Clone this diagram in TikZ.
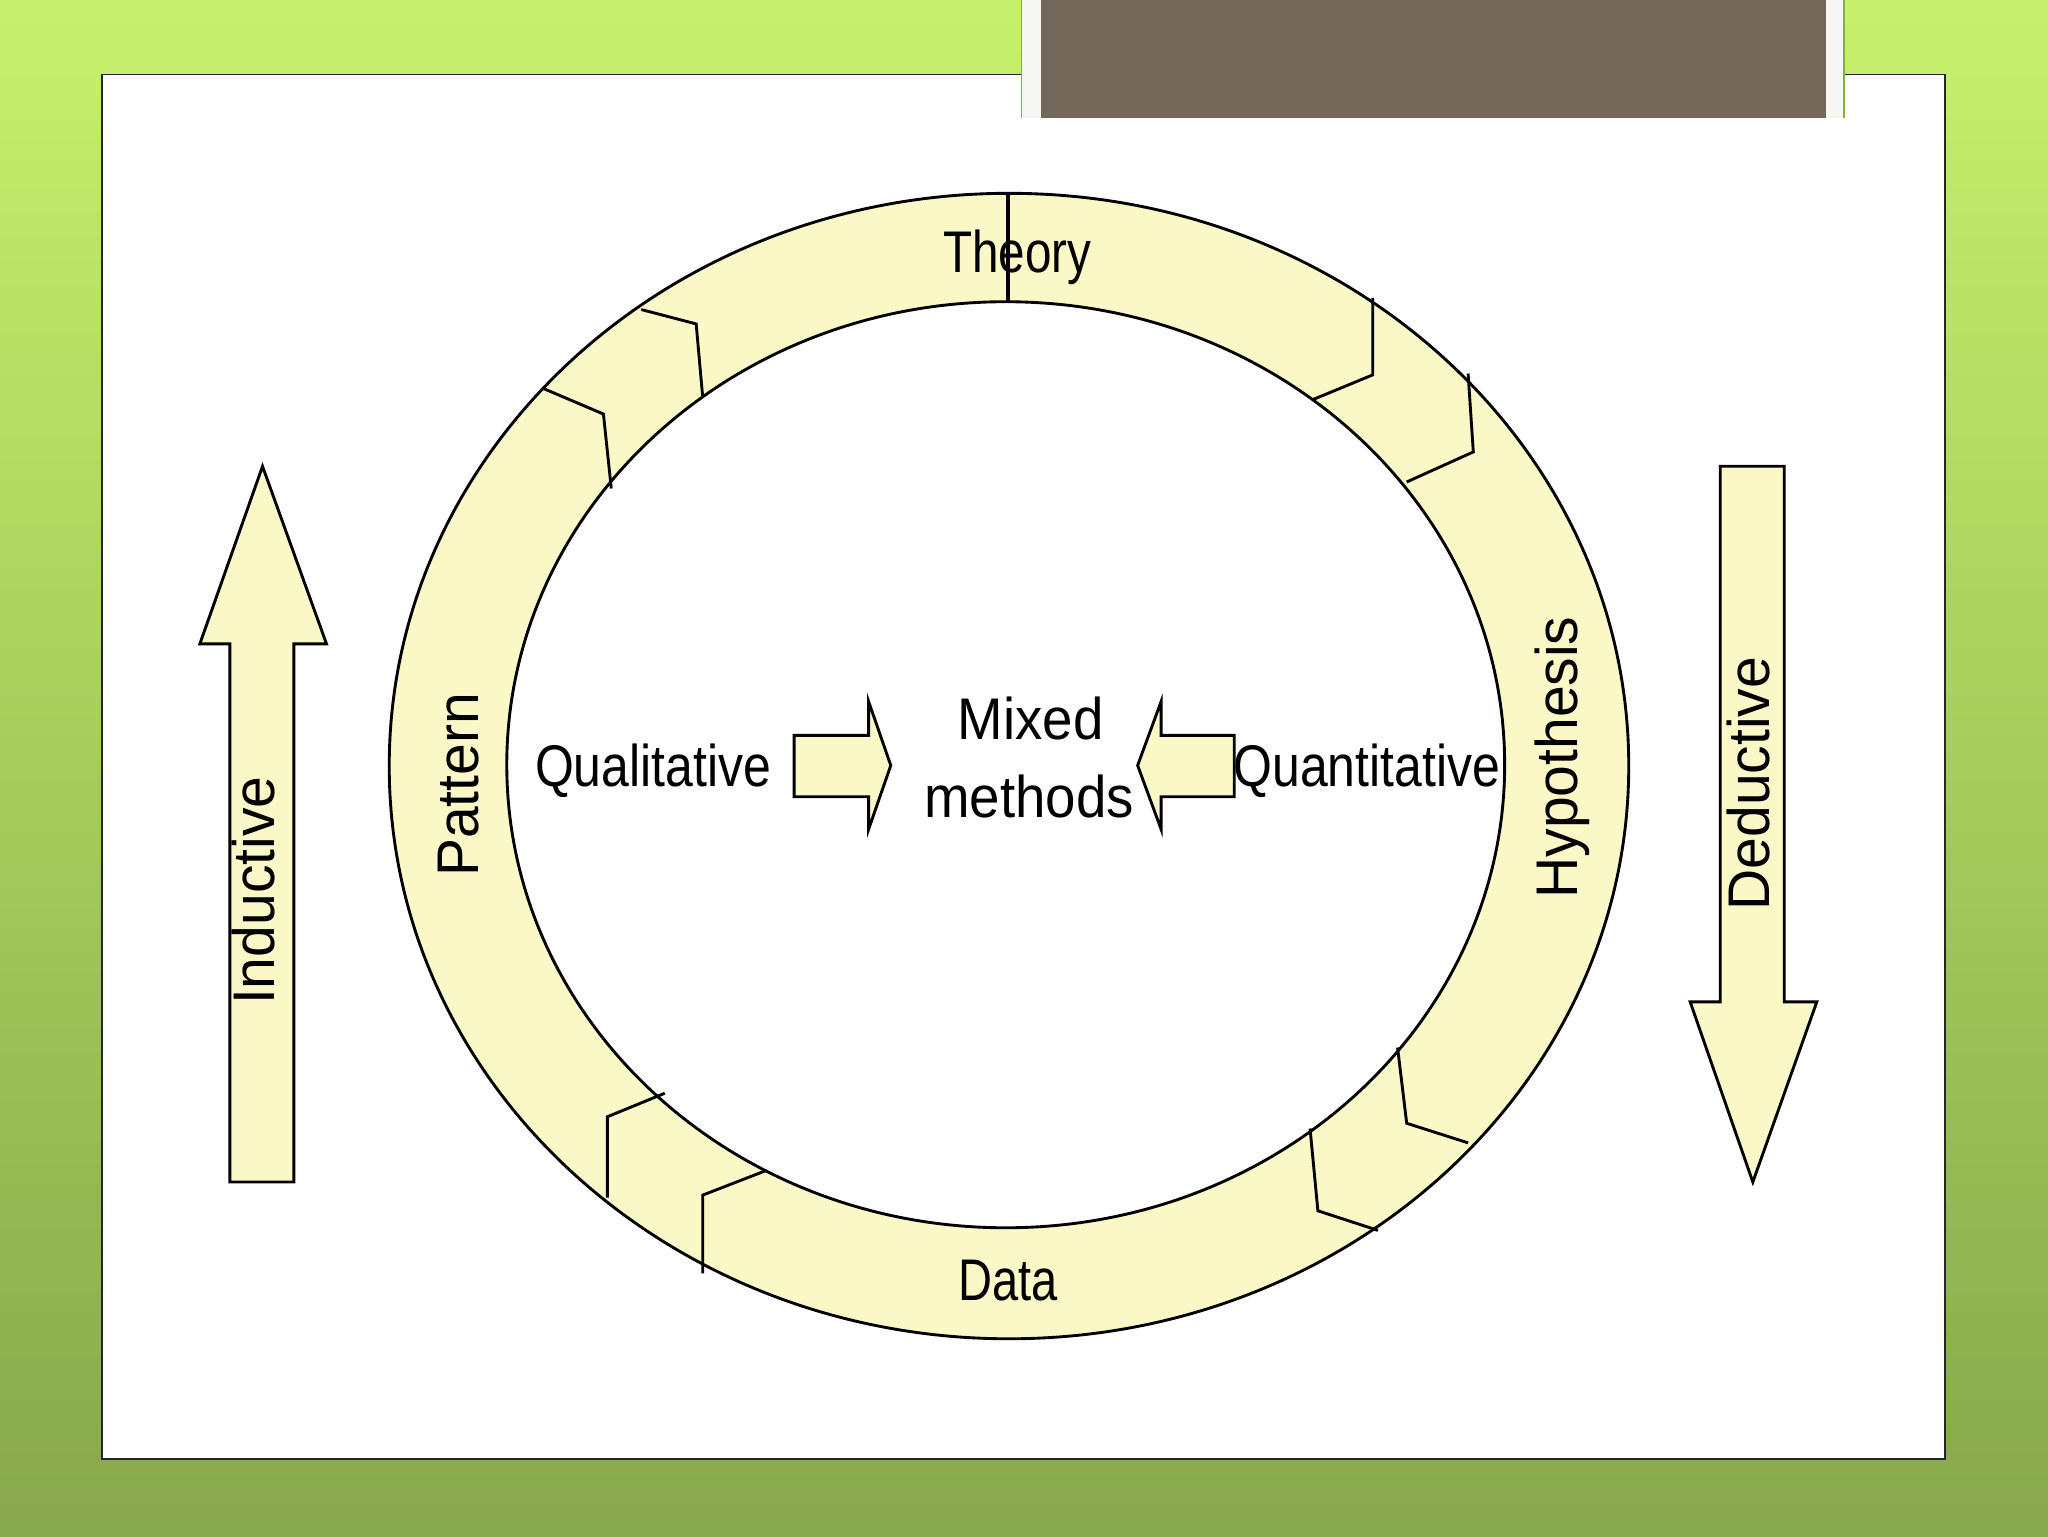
\documentclass[tikz,border=0pt]{standalone}
\usepackage{fontspec}
\setmainfont{Liberation Sans}
\usepackage{graphicx}
\definecolor{ringyellow}{RGB}{250,248,198}
\definecolor{limetop}{RGB}{198,240,108}
\definecolor{limemid}{RGB}{170,208,88}
\definecolor{olivebot}{RGB}{136,168,76}
\definecolor{slidebrown}{RGB}{115,103,90}
\definecolor{framegreen}{RGB}{130,180,50}
\definecolor{framewhite}{RGB}{246,246,242}
\newcommand{\hsq}[2]{\scalebox{#1}[1]{#2}}
\begin{document}
\begin{tikzpicture}[x=1pt,y=-1pt,
  lbl/.style={font=\fontsize{45}{50}\selectfont, inner sep=0pt, anchor=base},
  outl/.style={draw=black, line width=2.2pt, line join=miter},
  blockarrow/.style={fill=ringyellow, draw=black, line width=2.2pt, line join=miter}]
\useasboundingbox (0,0) rectangle (1568,1176);
% slide background
\shade[top color=limetop, middle color=limemid, bottom color=olivebot] (0,0) rectangle (1568,1176);
% white panel
\fill[white] (78,57) rectangle (1489,1117);
\draw[black!85, line width=1.3pt] (78,57) rectangle (1489,1117);
% title box at top
\fill[framewhite] (782,0) rectangle (1412,90);
\draw[framegreen, line width=1.2pt] (782,0) -- (782,90);
\draw[framegreen, line width=1.2pt] (1412,0) -- (1412,90);
\fill[slidebrown] (797,0) rectangle (1398,90);
% ring
\fill[ringyellow, even odd rule]
  (772.5,586.5) ellipse [x radius=474.5pt, y radius=438.5pt]
  (770,585.5) ellipse [x radius=382pt, y radius=354.5pt];
\draw[outl] (772.5,586.5) ellipse [x radius=474.5pt, y radius=438.5pt];
\draw[outl] (770,585.5) ellipse [x radius=382pt, y radius=354.5pt];
% junctions of the cycle arrows
\draw[outl] (415,297) -- (462,317) -- (468,374);
\draw[outl] (491,237) -- (533,248) -- (538,304);
\draw[outl] (1051,228) -- (1051,287) -- (1005,306);
\draw[outl] (1124,286) -- (1128,346) -- (1077,369);
\draw[outl] (1070,802) -- (1077,860) -- (1124,875);
\draw[outl] (1003,864) -- (1009,927) -- (1055,942);
\draw[outl] (509,837) -- (465,855) -- (465,917);
\draw[outl] (587,896) -- (538,915) -- (538,975);
\draw[black, line width=3.2pt] (772,148) -- (772,231);
% side arrows
\draw[blockarrow] (176,905) -- (176,493) -- (153,493) -- (201,357) -- (250,493) -- (225,493) -- (225,905) -- cycle;
\draw[blockarrow] (1317,357) -- (1366,357) -- (1366,767) -- (1391,767) -- (1342,905) -- (1294,767) -- (1317,767) -- cycle;
% inner arrows
\draw[blockarrow] (608,563) -- (665,563) -- (665,537) -- (682,586) -- (665,635) -- (665,610) -- (608,610) -- cycle;
\draw[blockarrow] (945,563) -- (889,563) -- (889,537) -- (871,586) -- (889,635) -- (889,610) -- (945,610) -- cycle;
% labels
\node[lbl] (theory) at (779,209) {\hsq{0.81}{Theory}};
\node[lbl] (data) at (772,996) {\hsq{0.80}{Data}};
\node[lbl] (qual) at (500,602) {\hsq{0.85}{Qualitative}};
\node[lbl] (quant) at (1046.5,602) {\hsq{0.85}{Quantitative}};
\node[lbl] (mixed) at (789,566) {\hsq{0.93}{Mixed}};
\node[lbl] (methods) at (788,626) {\hsq{0.93}{methods}};
\node[lbl, rotate=90] (pattern) at (366,601) {\hsq{0.97}{Pattern}};
\node[lbl, rotate=90] (hyp) at (1208,580) {\hsq{0.97}{Hypothesis}};
\node[lbl, rotate=90] (ind) at (210,682) {\hsq{0.97}{Inductive}};
\node[lbl, rotate=90] (ded) at (1355,600) {\hsq{0.97}{Deductive}};
\end{tikzpicture}
\end{document}
